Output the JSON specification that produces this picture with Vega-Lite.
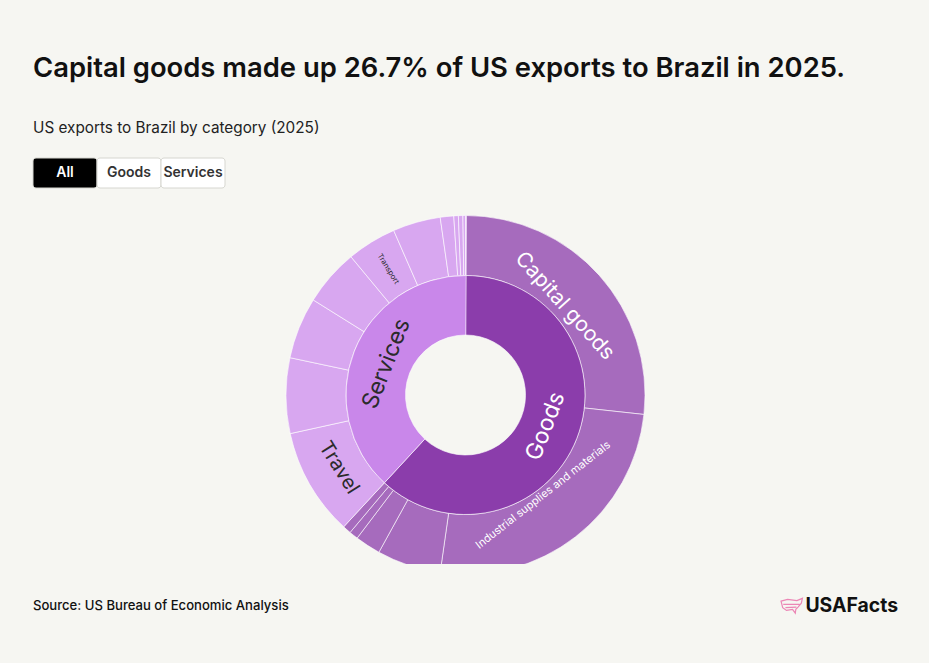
{
  "$schema": "https://vega.github.io/schema/vega-lite/v6.json",
  "background": "#f6f6f2",
  "padding": {"left": 32, "top": 54, "right": 32, "bottom": 30},
  "title": {
    "text": "Capital goods made up 26.7% of US exports to Brazil in 2025.",
    "subtitle": "US exports to Brazil by category (2025)",
    "anchor": "start",
    "frame": "group",
    "font": "Inter",
    "fontSize": 27.4,
    "fontWeight": 600,
    "color": "#111111",
    "subtitleFont": "Inter",
    "subtitleFontSize": 15.3,
    "subtitleFontWeight": 400,
    "subtitleColor": "#222222",
    "subtitlePadding": 39,
    "offset": 21
  },
  "config": {"view": {"stroke": null}},
  "spacing": 13,
  "resolve": {"scale": {"fill": "independent", "color": "independent", "x": "independent", "theta": "independent"}},
  "datasets": {
    "exports": [
      {"group": "Goods", "name": "Capital goods", "value": 26.7},
      {"group": "Goods", "name": "Industrial supplies and materials", "value": 25.5},
      {"group": "Goods", "name": "Consumer goods", "value": 5.75},
      {"group": "Goods", "name": "Foods, feeds, and beverages", "value": 2.3},
      {"group": "Goods", "name": "Automotive vehicles, parts, and engines", "value": 0.8},
      {"group": "Goods", "name": "Other goods", "value": 0.75},
      {"group": "Services", "name": "Travel", "value": 9.67},
      {"group": "Services", "name": "Charges for the use of intellectual property", "value": 6.78},
      {"group": "Services", "name": "Other business services", "value": 5.54},
      {"group": "Services", "name": "Financial services", "value": 5.1},
      {"group": "Services", "name": "Transport", "value": 4.46},
      {"group": "Services", "name": "Telecommunications, computer, and information services", "value": 4.29},
      {"group": "Services", "name": "Maintenance and repair services", "value": 1.21},
      {"group": "Services", "name": "Insurance services", "value": 0.41},
      {"group": "Services", "name": "Government goods and services", "value": 0.4},
      {"group": "Services", "name": "Personal, cultural, and recreational services", "value": 0.23},
      {"group": "Services", "name": "Construction", "value": 0.09}
    ],
    "buttons": [
      {"label": "All", "state": "selected"},
      {"label": "Goods", "state": "unselected"},
      {"label": "Services", "state": "unselected"}
    ],
    "footer": [
      {"side": "left", "label": "Source: US Bureau of Economic Analysis"},
      {"side": "right", "label": "USAFacts"}
    ]
  },
  "vconcat": [
    {
      "width": 192,
      "height": 30,
      "data": {"name": "buttons"},
      "resolve": {"scale": {"fill": "independent", "color": "independent"}},
      "layer": [
        {
          "mark": {"type": "rect", "stroke": "#d6d6d0", "strokeWidth": 1, "cornerRadius": 3},
          "encoding": {
            "x": {"field": "label", "type": "nominal", "sort": null, "scale": {"paddingInner": 0, "paddingOuter": 0}, "axis": null},
            "fill": {"field": "state", "type": "nominal", "scale": {"domain": ["selected", "unselected"], "range": ["#000000", "#ffffff"]}, "legend": null}
          }
        },
        {
          "mark": {"type": "text", "font": "Inter", "fontSize": 14, "fontWeight": 600},
          "encoding": {
            "x": {"field": "label", "type": "nominal", "sort": null, "scale": {"paddingInner": 0, "paddingOuter": 0}, "axis": null},
            "text": {"field": "label"},
            "color": {"field": "state", "type": "nominal", "scale": {"domain": ["selected", "unselected"], "range": ["#ffffff", "#333333"]}, "legend": null}
          }
        }
      ]
    },
    {
      "width": 865,
      "height": 362,
      "data": {"name": "exports"},
      "transform": [
        {"stack": "value", "groupby": [], "sort": [{"field": "group", "order": "ascending"}, {"field": "value", "order": "descending"}], "as": ["v0", "v1"]}
      ],
      "resolve": {"scale": {"fill": "independent", "color": "independent"}},
      "layer": [
        {
          "mark": {"type": "arc", "radius": 179.5, "radius2": 119.5, "stroke": "#ffffff", "strokeWidth": 1, "strokeOpacity": 0.6, "clip": true, "yOffset": 12},
          "encoding": {
            "theta": {"field": "v0", "type": "quantitative", "scale": {"nice": false, "zero": true}},
            "theta2": {"field": "v1"},
            "fill": {"field": "group", "type": "nominal", "scale": {"domain": ["Goods", "Services"], "range": ["#a66bbd", "#d8a7f0"]}, "legend": null},
            "tooltip": [{"field": "name"}, {"field": "value"}]
          }
        },
        {
          "transform": [
            {"aggregate": [{"op": "min", "field": "v0", "as": "g0"}, {"op": "max", "field": "v1", "as": "g1"}], "groupby": ["group"]}
          ],
          "mark": {"type": "arc", "radius": 119.5, "radius2": 60, "stroke": "#ffffff", "strokeWidth": 1, "strokeOpacity": 0.6, "clip": true, "yOffset": 12},
          "encoding": {
            "theta": {"field": "g0", "type": "quantitative", "scale": {"nice": false, "zero": true}},
            "theta2": {"field": "g1"},
            "color": {"field": "group", "type": "nominal", "scale": {"domain": ["Goods", "Services"], "range": ["#8b3dab", "#c987ea"]}, "legend": null}
          }
        },
        {
          "transform": [
            {"calculate": "(datum.v0 + datum.v1) / 2", "as": "mid"},
            {"filter": "datum.name === 'Capital goods'"}
          ],
          "mark": {"type": "text", "radius": 133, "angle": 48, "font": "Inter", "fontSize": 21, "color": "#ffffff", "align": "center", "baseline": "middle", "yOffset": 12},
          "encoding": {
            "theta": {"field": "mid", "type": "quantitative", "scale": {"nice": false, "zero": true}},
            "text": {"field": "name"}
          }
        },
        {
          "transform": [
            {"calculate": "(datum.v0 + datum.v1) / 2", "as": "mid"},
            {"filter": "datum.name === 'Industrial supplies and materials'"}
          ],
          "mark": {"type": "text", "radius": 127, "angle": -38, "font": "Inter", "fontSize": 11, "color": "#ffffff", "align": "center", "baseline": "middle", "yOffset": 12},
          "encoding": {
            "theta": {"field": "mid", "type": "quantitative", "scale": {"nice": false, "zero": true}},
            "text": {"field": "name"}
          }
        },
        {
          "transform": [
            {"calculate": "(datum.v0 + datum.v1) / 2", "as": "mid"},
            {"filter": "datum.name === 'Travel'"}
          ],
          "mark": {"type": "text", "radius": 146, "angle": 58, "font": "Inter", "fontSize": 20, "color": "#2b2b2b", "align": "center", "baseline": "middle", "yOffset": 12},
          "encoding": {
            "theta": {"field": "mid", "type": "quantitative", "scale": {"nice": false, "zero": true}},
            "text": {"field": "name"}
          }
        },
        {
          "transform": [
            {"calculate": "(datum.v0 + datum.v1) / 2", "as": "mid"},
            {"filter": "datum.name === 'Transport'"}
          ],
          "mark": {"type": "text", "radius": 148, "angle": 58, "font": "Inter", "fontSize": 7.5, "color": "#2b2b2b", "align": "center", "baseline": "middle", "yOffset": 12},
          "encoding": {
            "theta": {"field": "mid", "type": "quantitative", "scale": {"nice": false, "zero": true}},
            "text": {"field": "name"}
          }
        },
        {
          "transform": [
            {"aggregate": [{"op": "min", "field": "v0", "as": "g0"}, {"op": "max", "field": "v1", "as": "g1"}], "groupby": ["group"]},
            {"calculate": "(datum.g0 + datum.g1) / 2", "as": "mid"},
            {"filter": "datum.group === 'Goods'"}
          ],
          "mark": {"type": "text", "radius": 86, "angle": -68.7, "font": "Inter", "fontSize": 23, "color": "#ffffff", "align": "center", "baseline": "middle", "yOffset": 12},
          "encoding": {
            "theta": {"field": "mid", "type": "quantitative", "scale": {"nice": false, "zero": true}},
            "text": {"field": "group"}
          }
        },
        {
          "transform": [
            {"aggregate": [{"op": "min", "field": "v0", "as": "g0"}, {"op": "max", "field": "v1", "as": "g1"}], "groupby": ["group"]},
            {"calculate": "(datum.g0 + datum.g1) / 2", "as": "mid"},
            {"filter": "datum.group === 'Services'"}
          ],
          "mark": {"type": "text", "radius": 85, "angle": -68.7, "font": "Inter", "fontSize": 23, "color": "#2b2b2b", "align": "center", "baseline": "middle", "yOffset": 12},
          "encoding": {
            "theta": {"field": "mid", "type": "quantitative", "scale": {"nice": false, "zero": true}},
            "text": {"field": "group"}
          }
        }
      ]
    },
    {
      "width": 865,
      "height": 58,
      "data": {"name": "footer"},
      "layer": [
        {
          "transform": [{"filter": "datum.side === 'left'"}],
          "mark": {"type": "text", "align": "left", "baseline": "middle", "font": "Inter", "fontSize": 13.1, "fontWeight": 500, "color": "#111111"},
          "encoding": {
            "x": {"field": "side", "type": "nominal", "scale": {"type": "point", "domain": ["left", "right"], "padding": 0}, "axis": null},
            "text": {"field": "label"}
          }
        },
        {
          "transform": [{"filter": "datum.side === 'right'"}],
          "mark": {"type": "text", "align": "right", "baseline": "middle", "font": "Inter", "fontSize": 19.4, "fontWeight": 700, "color": "#111111"},
          "encoding": {
            "x": {"field": "side", "type": "nominal", "scale": {"type": "point", "domain": ["left", "right"], "padding": 0}, "axis": null},
            "text": {"field": "label"}
          }
        },
        {
          "transform": [{"filter": "datum.side === 'right'"}],
          "mark": {"type": "point", "shape": "M-1,-0.45 L-0.4,-0.6 L0.45,-0.5 L0.95,-0.7 L0.85,-0.25 L0.55,0.1 L0.35,0.3 L0.3,0.65 L0.05,0.3 L-0.5,0.4 L-0.85,0.15 Z M-0.8,-0.15 L0.7,-0.15 M-0.6,0.15 L0.4,0.1", "size": 480, "filled": false, "stroke": "#e8579c", "strokeWidth": 1.2, "xOffset": -106},
          "encoding": {
            "x": {"field": "side", "type": "nominal", "scale": {"type": "point", "domain": ["left", "right"], "padding": 0}, "axis": null}
          }
        }
      ]
    }
  ]
}
